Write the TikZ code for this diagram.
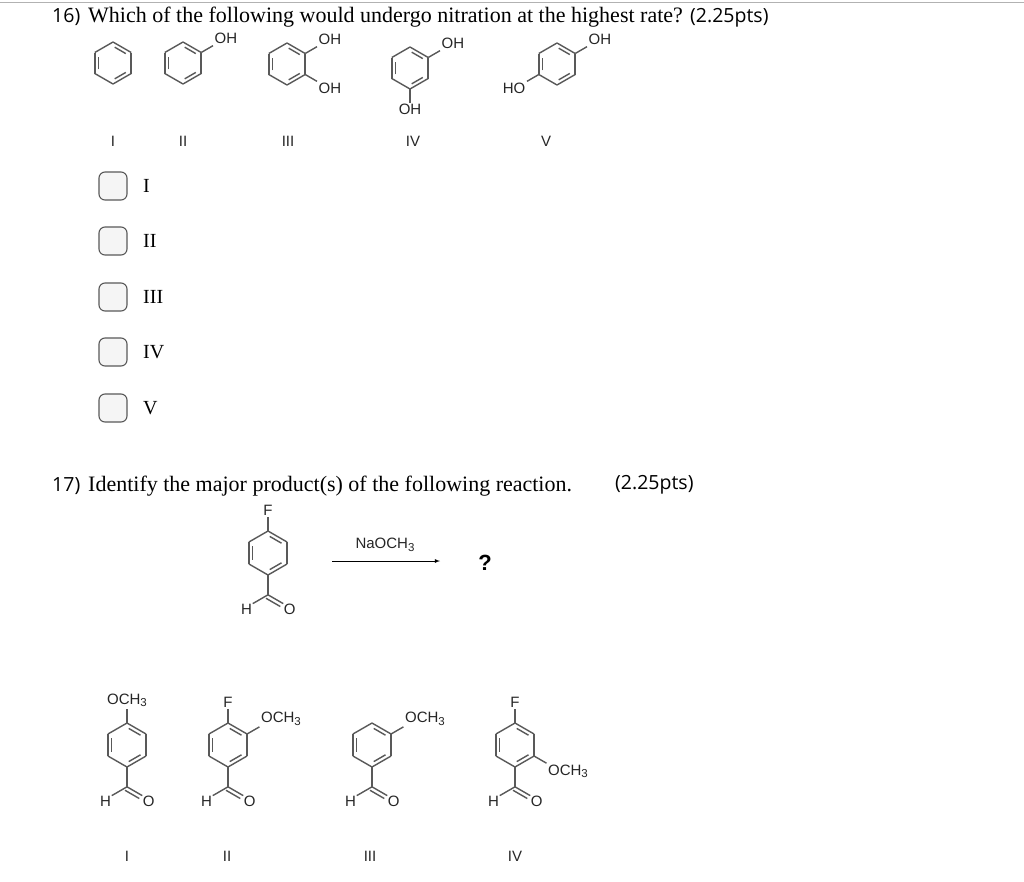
\documentclass[tikz,border=0pt]{standalone}
\usepackage{fontspec}
\setmainfont{Liberation Serif}
\newfontfamily\chem{Liberation Sans}
\newfontfamily\numf{Open Sans}
\usetikzlibrary{calc}
\newcommand\sub[1]{\raisebox{-2.5pt}{\fontsize{11.5}{13}\selectfont #1}}
\tikzset{
 bond/.style={line width=1.4pt, draw=black!65},
 lbl/.style={font=\chem\fontsize{15}{17}\selectfont, text=black!85, inner sep=1pt},
 ttl/.style={font=\fontsize{22}{26}\selectfont, anchor=base west, inner sep=0pt},
 num/.style={font=\numf\fontsize{19.5}{23}\selectfont, anchor=base west, inner sep=0pt},
 opt/.style={font=\fontsize{20}{24}\selectfont, anchor=base west, inner sep=0pt},
 cbox/.style={draw=black!65, line width=1.1pt, rounded corners=6pt, fill=black!4, minimum size=28pt, inner sep=0pt}
}
% ring: cx cy r
\newcommand\hexring[3]{%
 \foreach \a in {30,90,...,330}{\draw[bond] ([shift={(\a:#3)}]#1,#2) -- ([shift={(\a+60:#3)}]#1,#2);}
 \foreach \a in {30,150,270}{\draw[bond,shorten <=2pt,shorten >=2pt] ([shift={(\a:0.8*#3)}]#1,#2) -- ([shift={(\a+60:0.8*#3)}]#1,#2);}}
% substituent: cx cy angle r name text anchor
\newcommand\subst[7]{%
 \draw[bond] ([shift={(#3:#4)}]#1,#2) -- ([shift={(#3:1.65*#4)}]#1,#2) node[lbl,anchor=#7] (#5) {#6};}
% aldehyde at bottom: cx cy r name
\newcommand\cho[4]{%
 \coordinate (#4c) at ([shift={(90:1.9*#3)}]#1,#2);
 \draw[bond] ([shift={(90:#3)}]#1,#2) -- (#4c);
 \draw[bond] (#4c) -- ++(150:0.8*#3) node[lbl,anchor=north east,inner sep=0pt] (#4h) {H};
 \draw[bond] (#4c) -- ++(30:0.8*#3) node[lbl,anchor=north west,inner sep=0pt] (#4o) {O};
 \draw[bond] ($(#4c)+(120:4)$) -- ++(30:0.75*#3);}
\begin{document}
\begin{tikzpicture}[x=1pt,y=-1pt]
\useasboundingbox[fill=white] (0,0) rectangle (1024,881);
\draw[black!30,line width=1pt] (0,2) -- (1024,2);
% Question 16
\node[num] (q16) at (52,22) {16)};
\node[ttl] (t16) at (88,22) {Which of the following would undergo nitration at the highest rate? \numf\fontsize{19.5}{23}\selectfont(2.25pts)};
\hexring{113}{63}{21}
\hexring{183}{63}{21}
\subst{183}{63}{330}{21}{oh2}{OH}{south west}
\hexring{287}{64}{21}
\subst{287}{64}{330}{21}{oh3a}{OH}{south west}
\subst{287}{64}{30}{21}{oh3b}{OH}{north west}
\hexring{410}{68}{21}
\subst{410}{68}{330}{21}{oh4a}{OH}{south west}
\subst{410}{68}{90}{21}{oh4b}{OH}{north}
\hexring{557}{64}{21}
\subst{557}{64}{330}{21}{oh5a}{OH}{south west}
\subst{557}{64}{150}{21}{oh5b}{HO}{north east}
\foreach \x/\t/\n in {113/I/a,183/II/b,288/III/c,413/IV/d,546/V/e}{\node[lbl] (L\n) at (\x,141) {\t};}
% options
\foreach \y/\t/\n in {186/I/a,241/II/b,297/III/c,352/IV/d,408/V/e}{
 \node[cbox] (cb\n) at (113,\y) {};
 \node[opt,anchor=west] (ot\n) at (143,\y) {\t};}
% Question 17
\node[num] (q17) at (52,491) {17)};
\node[ttl] (t17) at (88,491) {Identify the major product(s) of the following reaction.};
\node[num] (p17) at (615,489) {(2.25pts)};
\hexring{268}{553}{22}
\subst{268}{553}{270}{22}{rf}{F}{south}
\cho{268}{553}{22}{r}
\draw[line width=0.8pt,-latex] (332,561) -- (440,561);
\node[lbl] (naoch) at (385,545) {NaOCH\sub{3}};
\node[font=\chem\bfseries\fontsize{22}{26}\selectfont] (qm) at (485,563) {?};
% Products
\hexring{127}{745}{22}
\subst{127}{745}{270}{22}{p1a}{OCH\sub{3}}{south}
\cho{127}{745}{22}{pa}
\hexring{228}{745}{22}
\subst{228}{745}{270}{22}{p2f}{F}{south}
\subst{228}{745}{330}{22}{p2o}{OCH\sub{3}}{south west}
\cho{228}{745}{22}{pb}
\hexring{372}{745}{22}
\subst{372}{745}{330}{22}{p3o}{OCH\sub{3}}{south west}
\cho{372}{745}{22}{pc}
\hexring{515}{745}{22}
\subst{515}{745}{270}{22}{p4f}{F}{south}
\subst{515}{745}{30}{22}{p4o}{OCH\sub{3}}{north west}
\cho{515}{745}{22}{pd}
\foreach \x/\t/\n in {127/I/a,227/II/b,370/III/c,515/IV/d}{\node[lbl] (B\n) at (\x,856) {\t};}
\end{tikzpicture}
\end{document}
